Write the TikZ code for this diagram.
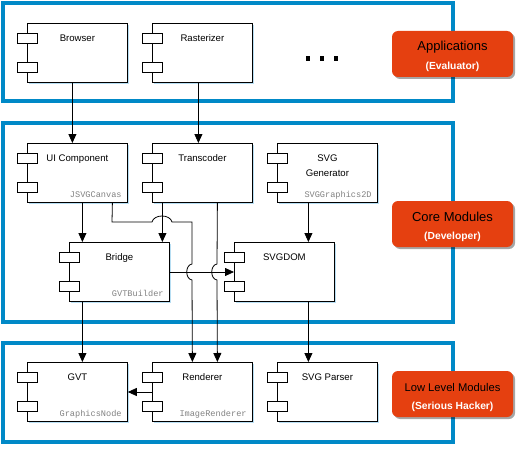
\documentclass[tikz,border=0pt]{standalone}
\usepackage{fontspec}
\setmainfont{Liberation Sans}
\newfontfamily\monof{Liberation Mono}
\usetikzlibrary{shadows,arrows.meta,calc}
\definecolor{frameblue}{RGB}{0,137,199}
\definecolor{labred}{RGB}{229,64,16}
\definecolor{glow}{RGB}{175,218,242}
\definecolor{subgray}{RGB}{130,130,130}
\tikzset{
 bframe/.style={draw=frameblue,line width=3.2pt},
 compbody/.style={draw=black,fill=white,line width=0.8pt,minimum width=100pt,minimum height=59pt,inner sep=0pt,
   drop shadow={shadow xshift=2pt,shadow yshift=-2pt,fill=glow,opacity=0.9}},
 port/.style={draw=black,fill=white,line width=0.8pt,minimum width=20pt,minimum height=10pt,inner sep=0pt},
 ctitle/.style={font=\fontsize{9.6}{15}\selectfont,align=center,anchor=north,inner sep=0pt},
 csub/.style={font=\monof\fontsize{8.6}{10}\selectfont,text=subgray,anchor=base east,inner sep=0pt},
 conn/.style={draw=black,line width=0.8pt},
 arr/.style={conn,-{Triangle[length=9pt,width=8pt]}},
 role/.style={fill=labred,rounded corners=6pt,minimum width=121pt,minimum height=46pt,inner sep=0pt,
   drop shadow={shadow xshift=2pt,shadow yshift=-2pt,fill=black,opacity=0.35}},
 rolemain/.style={font=\fontsize{13}{15}\selectfont,inner sep=0pt},
 rolesub/.style={font=\bfseries\fontsize{10.3}{12}\selectfont,text=white,inner sep=0pt},
}
\newcommand\compbox[5]{%
 \node[compbody,anchor=north west] (#1) at (#2,#3) {};
 \node[port] (#1p1) at ([yshift=-15pt]#1.north west) {};
 \node[port] (#1p2) at ([yshift=-44pt]#1.north west) {};
 \node[ctitle] (#1t) at ([yshift=-11.5pt]#1.north) {#4};
 \node[csub] (#1s) at ([xshift=-6pt,yshift=5pt]#1.south east) {#5};
}
\begin{document}
\begin{tikzpicture}[x=1pt,y=-1pt]
\useasboundingbox (0,0) rectangle (520,460);
% frames
\draw[bframe] (3,3) rectangle (453,101);
\draw[bframe] (3,123) rectangle (453,322);
\draw[bframe] (3,343) rectangle (453,442);
% components
\compbox{browser}{27}{23}{Browser}{}
\compbox{raster}{152}{23}{Rasterizer}{}
\compbox{ui}{27}{143}{UI Component}{JSVGCanvas}
\compbox{trans}{152}{143}{Transcoder}{}
\compbox{svggen}{277}{143}{SVG\\Generator}{SVGGraphics2D}
\compbox{bridge}{69}{242}{Bridge}{GVTBuilder}
\compbox{svgdom}{234}{242}{SVGDOM}{}
\compbox{gvt}{27}{362}{GVT}{GraphicsNode}
\compbox{renderer}{152}{362}{Renderer}{ImageRenderer}
\compbox{parser}{277}{362}{SVG Parser}{}
% dots
\fill (306,56) rectangle (310,61);
\fill (320,56) rectangle (324,61);
\fill (334,56) rectangle (338,61);
% connectors
\draw[arr] ([xshift=-5pt]browser.south) -- ([xshift=-5pt]ui.north);
\draw[arr] ([xshift=-4pt]raster.south) -- ([xshift=-4pt]trans.north);
\draw[arr] ([xshift=5pt]ui.south) -- ([xshift=-37pt]bridge.north);
\draw[arr] ([xshift=-40pt]trans.south) -- ([xshift=43pt]bridge.north);
\draw[arr] ([xshift=-19pt]svggen.south) -- ([xshift=24pt]svgdom.north);
\draw[arr] ([yshift=-30pt]bridge.north east) -- ([yshift=-30pt]svgdom.north west);
\draw[arr] ([xshift=35pt]ui.south) -- (112,222) -- (152,222)
   .. controls (154,214) and (170,214) .. (172,222) -- (192,222) -- (192,264)
   .. controls (185,265) and (185,279) .. (192,280) -- ([xshift=-10pt]renderer.north);
\draw[arr] ([xshift=15pt]trans.south) -- (217,264)
   .. controls (210,265) and (210,279) .. (217,280) -- ([xshift=15pt]renderer.north);
\draw[arr] ([xshift=-37pt]bridge.south) -- ([xshift=5pt]gvt.north);
\draw[arr] ([xshift=24pt]svgdom.south) -- ([xshift=-19pt]parser.north);
\draw[arr] ([yshift=-30pt]renderer.north west) -- ([yshift=-30pt]gvt.north east);
% role labels
\node[role] (app) at (452.5,54) {};
\node[rolemain] (appa) at ([yshift=7pt]app.center) {Applications};
\node[rolesub] (appb) at ([yshift=-13pt]app.center) {(Evaluator)};
\node[role] (core) at (452.5,224) {};
\node[rolemain] (corea) at ([yshift=7pt]core.center) {Core Modules};
\node[rolesub] (coreb) at ([yshift=-13pt]core.center) {(Developer)};
\node[role] (low) at (452.5,394) {};
\node[rolemain,font=\fontsize{11.2}{13}\selectfont] (lowa) at ([yshift=7pt]low.center) {Low Level Modules};
\node[rolesub] (lowb) at ([yshift=-13pt]low.center) {(Serious Hacker)};
\end{tikzpicture}
\end{document}
